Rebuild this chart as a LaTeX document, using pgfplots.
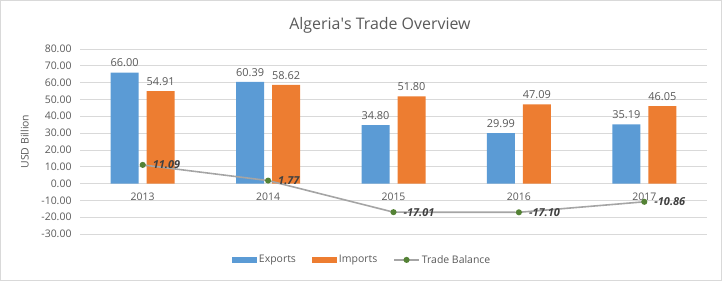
\documentclass[border=0pt]{standalone}
\usepackage{pgfplots}
\pgfplotsset{compat=1.18}
\usepackage{fontspec}
\setmainfont{Open Sans}
\definecolor{cblue}{HTML}{5B9BD5}
\definecolor{corange}{HTML}{ED7D31}
\definecolor{cgreen}{HTML}{548235}
\definecolor{cline}{HTML}{A5A5A5}
\definecolor{ctext}{HTML}{595959}
\definecolor{clabel}{HTML}{404040}
\definecolor{cgrid}{HTML}{D9D9D9}
\begin{document}
\begin{tikzpicture}
\path[use as bounding box] (0,0) rectangle (722bp,281bp);
\draw[color=cgrid] (0.5bp,0.5bp) rectangle (721.5bp,280.5bp);
\node[font=\fontsize{16}{18}\selectfont, text=ctext] at (380bp,256bp) {Algeria\textquotesingle s Trade Overview};
\begin{axis}[
  at={(80bp,47bp)}, anchor=south west,
  scale only axis, width=627bp, height=185bp,
  xmin=-0.5, xmax=4.5, ymin=-30, ymax=80,
  ytick={-30,-20,...,80},
  xtick={0,1,2,3,4}, xticklabels={2013,2014,2015,2016,2017},
  axis x line=middle, axis y line*=left,
  axis line style={-},
  x axis line style={draw=cgrid},
  y axis line style={draw=none},
  major tick length=0pt,
  ymajorgrids, grid style={draw=cgrid, line width=0.8bp},
  clip=false,
  font=\fontsize{10.5}{12}\selectfont,
  tick label style={text=ctext, font=\fontsize{10.5}{12}\selectfont},
  yticklabel style={xshift=-5bp},
  xticklabel style={yshift=-6bp},
  /pgf/number format/fixed,
  /pgf/number format/fixed zerofill,
  /pgf/number format/precision=2,
  /pgf/number format/assume math mode=true,
  ylabel={USD Billion},
  ylabel style={at={(axis description cs:-0.088,0.5)}, anchor=center, text=ctext, font=\fontsize{10.5}{12}\selectfont},
  legend style={at={(0.45,-0.14)}, anchor=center, draw=none, fill=none,
    legend columns=3, font=\fontsize{10.5}{12}\selectfont, text=ctext,
    /tikz/every even column/.append style={column sep=14bp}},
  legend cell align=left,
]
\addplot[ybar, bar width=28bp, bar shift=-18bp, fill=cblue, draw=none,
  nodes near coords, point meta=y,
  nodes near coords style={text=ctext, xshift=-18bp, yshift=2bp, font=\fontsize{11}{12}\selectfont},
  legend image code/.code={\fill[cblue] (0bp,-3bp) rectangle (25bp,3bp);}]
  coordinates {(0,66.00) (1,60.39) (2,34.80) (3,29.99) (4,35.19)};
\addlegendentry{Exports}
\addplot[ybar, bar width=28bp, bar shift=18bp, fill=corange, draw=none,
  nodes near coords, point meta=y,
  nodes near coords style={text=ctext, xshift=18bp, yshift=2bp, font=\fontsize{11}{12}\selectfont},
  legend image code/.code={\fill[corange] (0bp,-3bp) rectangle (25bp,3bp);}]
  coordinates {(0,54.91) (1,58.62) (2,51.80) (3,47.09) (4,46.05)};
\addlegendentry{Imports}
\addplot[color=cline, line width=1.6bp, mark=*, mark size=2.2bp,
  mark options={fill=cgreen, draw=cgreen},
  nodes near coords, point meta=y,
  nodes near coords style={anchor=west, xshift=6bp, text=clabel, font=\fontsize{11}{12}\selectfont\bfseries\itshape},
  legend image code/.code={\draw[cline, line width=1.6bp] (0bp,0bp) -- (25bp,0bp); \fill[cgreen] (12.5bp,0bp) circle (2.2bp);}]
  coordinates {(0,11.09) (1,1.77) (2,-17.01) (3,-17.10) (4,-10.86)};
\addlegendentry{Trade Balance}
\end{axis}
\end{tikzpicture}
\end{document}
